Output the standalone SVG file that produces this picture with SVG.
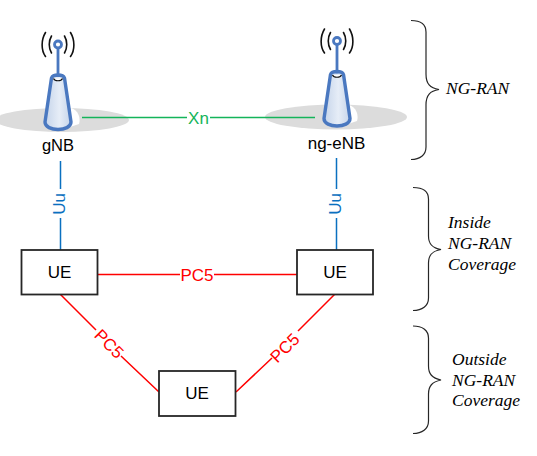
<svg xmlns="http://www.w3.org/2000/svg" width="537" height="456" viewBox="0 0 537 456">
<defs>
<style>
.sans{font-family:"Liberation Sans",Arial,sans-serif;font-size:17px}
.it{font-family:"Liberation Serif","Times New Roman",serif;font-style:italic;font-size:17.500px;fill:#000}
.box{fill:#fff;stroke:#262626;stroke-width:1.8}
.br{fill:none;stroke:#262626;stroke-width:1.2}
.red{stroke:#f00;stroke-width:1.5;fill:none}
.blue{stroke:#0a70c0;stroke-width:1.5;fill:none}
.shadow{fill:#dcdcdc}
.wave{fill:none;stroke:#111;stroke-width:1.6;stroke-linecap:round}
.tower{fill:url(#tw);stroke:#4a78c0;stroke-width:3.400;stroke-linejoin:round}
.mast{stroke:#4a78c0;stroke-width:2.800;fill:none}
</style>
<linearGradient id="tw" x1="0" x2="1" y1="0" y2="0"><stop offset="0" stop-color="#c5d4ea"/><stop offset=".55" stop-color="#e6edf7"/><stop offset="1" stop-color="#c5d4ea"/></linearGradient>
<g id="ant">
<path class="wave" d="M-6.500 -11C-9.500 -6 -9.500 1 -6.500 6M6.500 -11C9.500 -6 9.500 1 6.500 6"/>
<path class="wave" d="M-12.500 -14.500C-17 -7 -17 3 -12.500 9.500M12.500 -14.500C17 -7 17 3 12.500 9.500"/>
<path class="tower" d="M-6.500 31C-5 27 5 27 6.500 31L13 75C13 85 -13 85 -13 75Z"/>
<path class="mast" d="M0 -2V30"/>
<circle cx="0" cy="-2.500" r="3.500" fill="#fff" stroke="#4a78c0" stroke-width="2.800"/>
<path d="M-4.500 31.500C-3 34.500 3 34.500 4.500 31.500" fill="#fff" stroke="#111" stroke-width="1.200"/>
</g>
</defs>
<g id="connectors">
<path class="red" d="M97 274.500H180M214 274.500H297"/>
<path class="red" d="M60 294L96 330M121 356L159 392"/>
<path class="red" d="M335 294L298 331M272 358L236 392"/>
<path class="blue" d="M60.500 161V189M60.500 218V250"/>
<path class="blue" d="M336.500 158V189M336.500 218V250"/>
</g>
<g id="shadows">
<ellipse class="shadow" cx="62" cy="120" rx="67" ry="12"/>
<ellipse class="shadow" cx="336" cy="117" rx="71" ry="12.500"/>
<path d="M71 108C78 110 81 118 79 124L70 127Z" fill="#fff"/>
<path d="M349 105C356 107 359 115 357 121L348 124Z" fill="#fff"/>
</g>
<path d="M82 117.500H187M210 117.500H315" fill="none" stroke="#14b45a" stroke-width="1.600"/>
<g id="xn"><text class="sans" x="198.500" y="123.500" text-anchor="middle" fill="#14b45a">Xn</text></g>
<g id="gNB">
<use href="#ant" x="58" y="47"/>
<text class="sans" x="58" y="151" text-anchor="middle" style="font-size:16.500px">gNB</text>
</g>
<g id="ng-eNB">
<use href="#ant" x="337" y="43.500"/>
<text class="sans" x="336.500" y="148.500" text-anchor="middle">ng-eNB</text>
</g>
<g id="ue1"><rect class="box" x="21.500" y="250" width="76" height="44.500"/><text class="sans" x="59.500" y="277.500" text-anchor="middle">UE</text></g>
<g id="ue2"><rect class="box" x="297" y="250" width="76" height="44.500"/><text class="sans" x="335" y="277.500" text-anchor="middle">UE</text></g>
<g id="ue3"><rect class="box" x="159" y="371" width="76.500" height="45"/><text class="sans" x="197" y="399" text-anchor="middle">UE</text></g>
<g id="labels">
<text class="sans" x="197" y="280.500" text-anchor="middle" fill="#f00">PC5</text>
<text class="sans" x="0" y="0" text-anchor="middle" fill="#f00" transform="translate(105 348) rotate(45)">PC5</text>
<text class="sans" x="0" y="0" text-anchor="middle" fill="#f00" transform="translate(289 352) rotate(-45)">PC5</text>
<text class="sans" x="0" y="0" text-anchor="middle" fill="#0a70c0" transform="translate(65 204) rotate(-90)">Uu</text>
<text class="sans" x="0" y="0" text-anchor="middle" fill="#0a70c0" transform="translate(341 204) rotate(-90)">Uu</text>
</g>
<g id="brace1">
<path class="br" d="M411 20.500C420 20.500 426 24 426 32V74C426 84 430 88 439 89.500C430 91 426 95 426 105V147C426 155 420 159.500 411 159.500"/>
<text class="it" x="446" y="94">NG-RAN</text>
</g>
<g id="brace2">
<path class="br" d="M413 187.500C422 187.500 428.500 191 428.500 199V236C428.500 244 432 248 441 249.500C432 251 428.500 255 428.500 263V298C428.500 306 422 310.500 413 310.500"/>
<text class="it" x="448" y="228">Inside</text>
<text class="it" x="448" y="249">NG-RAN</text>
<text class="it" x="448" y="270">Coverage</text>
</g>
<g id="brace3">
<path class="br" d="M413 326C422 326 428.500 330 428.500 338V366C428.500 374 432 378 441 380C432 382 428.500 386 428.500 394V421C428.500 429 422 433.500 413 433.500"/>
<text class="it" x="452" y="365">Outside</text>
<text class="it" x="452" y="386">NG-RAN</text>
<text class="it" x="452" y="406">Coverage</text>
</g>
</svg>
